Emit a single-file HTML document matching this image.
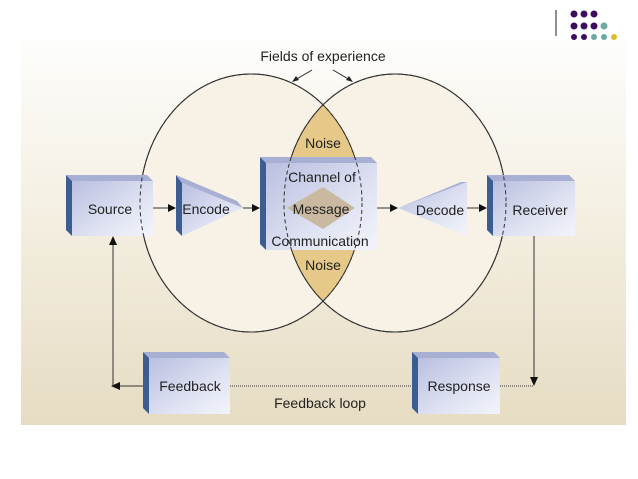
<!DOCTYPE html>
<html><head><style>
html,body{margin:0;padding:0;background:#fff;width:638px;height:479px;overflow:hidden}
text{font-family:"Liberation Sans",sans-serif;fill:#222}
</style></head><body>
<svg width="638" height="479" viewBox="0 0 638 479" xmlns="http://www.w3.org/2000/svg">
<defs>
<linearGradient id="bg" x1="0" y1="0" x2="0" y2="1">
<stop offset="0" stop-color="#fdfdfb"/><stop offset="0.45" stop-color="#f4efe2"/><stop offset="1" stop-color="#e6dcc3"/>
</linearGradient>
<linearGradient id="face" x1="0" y1="0" x2="1" y2="1">
<stop offset="0" stop-color="#b9bfe0"/><stop offset="0.6" stop-color="#dfe2f2"/><stop offset="1" stop-color="#f3f4fa"/>
</linearGradient>
<clipPath id="lc"><ellipse cx="251" cy="203" rx="111" ry="129"/></clipPath>
</defs>
<rect x="21" y="40" width="605" height="385" fill="url(#bg)"/>
<!-- logo -->
<line x1="556" y1="10" x2="556" y2="36" stroke="#222" stroke-width="1"/>
<g fill="#3d0d5e">
<circle cx="574" cy="14" r="3.5"/><circle cx="584" cy="14" r="3.5"/><circle cx="594" cy="14" r="3.5"/>
<circle cx="574" cy="26" r="3.5"/><circle cx="584" cy="26" r="3.5"/><circle cx="594" cy="26" r="3.5"/>
<circle cx="574" cy="37" r="3"/><circle cx="584" cy="37" r="3"/></g>
<circle cx="604" cy="26" r="3.5" fill="#6fa8a0"/><circle cx="594" cy="37" r="3" fill="#6fa8a0"/><circle cx="604" cy="37" r="3" fill="#6fa8a0"/><circle cx="614" cy="37" r="3" fill="#d8c030"/>
<!-- circles -->
<ellipse cx="251" cy="203" rx="111" ry="129" fill="#f8f1e6" stroke="#333" stroke-width="1"/>
<ellipse cx="395" cy="203" rx="111" ry="129" fill="#f8f1e6" stroke="#333" stroke-width="1"/>
<ellipse cx="395" cy="203" rx="111" ry="129" fill="#e6c888" clip-path="url(#lc)"/>
<ellipse cx="251" cy="203" rx="111" ry="129" fill="none" stroke="#333" stroke-width="1"/>
<ellipse cx="395" cy="203" rx="111" ry="129" fill="none" stroke="#333" stroke-width="1"/>
<text x="323" y="61" font-size="14" text-anchor="middle">Fields of experience</text>
<path d="M312 70 L295 80 M333 70 L350 80" stroke="#222" fill="none"/>
<path d="M292 82 l7 -2 l-3 -4z M353 82 l-7 -2 l3 -4z" fill="#222"/>
<text x="323" y="148" font-size="14" text-anchor="middle">Noise</text>
<text x="323" y="270" font-size="14" text-anchor="middle">Noise</text>
<!-- lines -->
<g stroke="#333" stroke-width="1" fill="none">
<line x1="153" y1="208" x2="170" y2="208"/>
<line x1="243" y1="208" x2="256" y2="208"/>
<line x1="377" y1="208" x2="393" y2="208"/>
<line x1="467" y1="208" x2="482" y2="208"/>
<line x1="113" y1="244" x2="113" y2="386"/>
<line x1="120" y1="386" x2="143" y2="386"/>
<line x1="230" y1="386" x2="412" y2="386" stroke-dasharray="1 1"/>
<line x1="500" y1="386" x2="534" y2="386" stroke-dasharray="1 1"/>
<line x1="534" y1="236" x2="534" y2="378"/>
</g>
<g fill="#111">
<path d="M176 208 l-8 -4 v8z M260 208 l-8 -4 v8z M398 208 l-8 -4 v8z M487 208 l-8 -4 v8z"/>
<path d="M113 236 l-4 9 h8z M111 386 l9 -4 v8z M534 386 l-4 -9 h8z"/>
</g>
<!-- boxes -->
<g>
<polygon points="66,175 72,181 153,181 147,175" fill="#a7afd3"/>
<polygon points="66,175 72,181 72,236 66,230" fill="#3c5d92"/>
<rect x="72" y="181" width="81" height="55" fill="url(#face)"/>
<text x="110" y="214" font-size="14" text-anchor="middle">Source</text>

<polygon points="176,175 182,183 182,236 176,230" fill="#3c5d92"/>
<polygon points="182,183 243,208 182,236" fill="url(#face)"/>
<polygon points="176,175 182,183 243,208 237,201" fill="#a7afd3"/>
<text x="206" y="214" font-size="14" text-anchor="middle">Encode</text>

<polygon points="260,157 266,163 377,163 371,157" fill="#a7afd3"/>
<polygon points="260,157 266,163 266,250 260,244" fill="#3c5d92"/>
<rect x="266" y="163" width="111" height="87" fill="url(#face)"/>
<polygon points="323,187 355,208 323,229 287,208" fill="#c9b9a0"/>
<text x="322" y="182" font-size="14" text-anchor="middle">Channel of</text>
<text x="321" y="214" font-size="14" text-anchor="middle">Message</text>
<text x="320" y="246" font-size="14" text-anchor="middle">Communication</text>

<polygon points="398,208 467,182 467,236" fill="url(#face)"/>
<polygon points="398,208 461,182 467,182" fill="#a7afd3"/>
<text x="440" y="215" font-size="14" text-anchor="middle">Decode</text>

<polygon points="487,175 493,181 575,181 569,175" fill="#a7afd3"/>
<polygon points="487,175 493,181 493,236 487,230" fill="#3c5d92"/>
<rect x="493" y="181" width="82" height="55" fill="url(#face)"/>
<text x="540" y="215" font-size="14" text-anchor="middle">Receiver</text>

<polygon points="143,352 149,358 230,358 224,352" fill="#a7afd3"/>
<polygon points="143,352 149,358 149,414 143,408" fill="#3c5d92"/>
<rect x="149" y="358" width="81" height="56" fill="url(#face)"/>
<text x="190" y="391" font-size="14" text-anchor="middle">Feedback</text>

<polygon points="412,352 418,358 500,358 494,352" fill="#a7afd3"/>
<polygon points="412,352 418,358 418,414 412,408" fill="#3c5d92"/>
<rect x="418" y="358" width="82" height="56" fill="url(#face)"/>
<text x="459" y="391" font-size="14" text-anchor="middle">Response</text>
</g>
<text x="320" y="408" font-size="14" text-anchor="middle">Feedback loop</text>
<!-- dashed circle overlay -->
<ellipse cx="251" cy="203" rx="111" ry="129" fill="none" stroke="#333" stroke-width="1" stroke-dasharray="4 3"/>
<ellipse cx="395" cy="203" rx="111" ry="129" fill="none" stroke="#333" stroke-width="1" stroke-dasharray="4 3"/>
</svg>
</body></html>
